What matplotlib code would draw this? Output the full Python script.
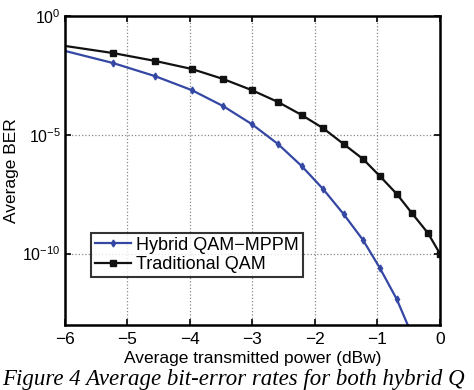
import numpy as np
import matplotlib
matplotlib.use('Agg')
import matplotlib.pyplot as plt

# x positions of the markers (dBw), shared by both curves
power = [-6.0, -5.23, -4.56, -3.97, -3.47, -3.01, -2.59, -2.21, -1.87, -1.54,
         -1.23, -0.96, -0.69, -0.45, -0.19, 0.0]

# log10(BER)
hybrid_log = [-1.47, -1.98, -2.53, -3.12, -3.79, -4.55, -5.39, -6.32, -7.28, -8.34,
              -9.43, -10.61, -11.92, -13.4]
trad_log = [-1.26, -1.56, -1.89, -2.23, -2.65, -3.12, -3.62, -4.17, -4.72, -5.39,
            -6.02, -6.74, -7.49, -8.29, -9.14, -10.0]

xticks = [-6, -5, -4, -3, -2, -1, 0]
yticks = [1e0, 1e-5, 1e-10]
ytick_labels = [r'$10^{0}$', r'$10^{-5}$', r'$10^{-10}$']

plt.rcParams['font.family'] = ['Liberation Sans', 'DejaVu Sans']
plt.rcParams['mathtext.fontset'] = 'custom'
plt.rcParams['mathtext.rm'] = 'Liberation Sans'

fig = plt.figure(figsize=(4.74, 3.90), dpi=100)
ax = fig.add_axes([0.137, 0.167, 0.791, 0.792])

hx = power[:len(hybrid_log)]
ax.semilogy(hx, 10.0 ** np.array(hybrid_log), color='#3447a3', lw=1.6,
            marker='d', ms=3.5, markevery=list(range(1, len(hx))),
            label='Hybrid QAM\u2212MPPM')
ax.semilogy(power, 10.0 ** np.array(trad_log), color='#111111', lw=1.6,
            marker='s', ms=5, markevery=list(range(1, len(power))),
            label='Traditional QAM')

ax.set_xlim(-6, 0)
ax.set_ylim(1e-13, 1e0)
ax.set_xticks(xticks)
ax.set_xticklabels(['\u2212%d' % -t if t < 0 else '%d' % t for t in xticks])
ax.set_yticks(yticks)
ax.set_yticklabels(ytick_labels)
ax.yaxis.set_minor_locator(matplotlib.ticker.NullLocator())
ax.tick_params(direction='in', top=True, right=True, length=4,
               width=1.2, pad=5)
ax.tick_params(axis='x', labelsize=12.5)
ax.tick_params(axis='y', labelsize=11.5, pad=3)
ax.grid(True, which='major', ls=':', color='#888888', lw=0.9)
for s in ax.spines.values():
    s.set_linewidth(1.8)

ax.set_xlabel('Average transmitted power (dBw)', fontsize=12.5, labelpad=3)
ax.set_ylabel('Average BER', fontsize=12.5)
ax.yaxis.set_label_coords(-0.122, 0.5)

leg = ax.legend(loc='lower left', bbox_to_anchor=(0.07, 0.155), fontsize=13,
                frameon=True, fancybox=False, edgecolor='black',
                handlelength=2.0, handletextpad=0.3, borderpad=0.2,
                labelspacing=0.15, borderaxespad=0)
leg.get_frame().set_linewidth(1.5)

fig.text(0.004, 0.0, 'Figure 4 Average bit-error rates for both hybrid Q',
         family=['Liberation Serif'], style='italic', fontsize=16.5,
         ha='left', va='bottom')

fig.savefig('out.png', dpi=100)
